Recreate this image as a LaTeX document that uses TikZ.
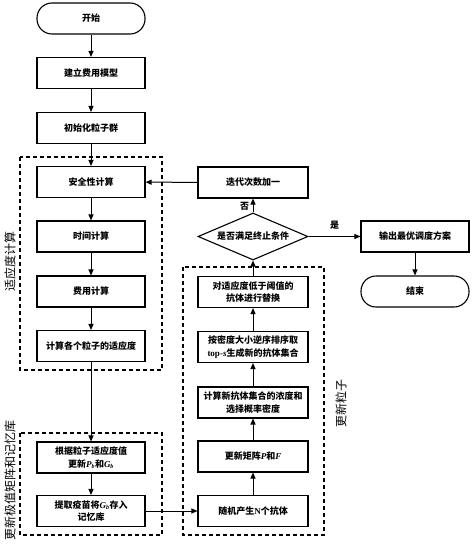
\documentclass[tikz,border=0pt]{standalone}
\usepackage{fontspec}
\setmainfont{Noto Sans CJK SC}
\newfontfamily\lat{Liberation Serif}
\usetikzlibrary{arrows.meta,shapes.geometric}
\newcommand{\mylat}[1]{{\lat\bfseries\itshape #1}}
\tikzset{
  box/.style={draw, line width=1.1pt, rectangle, minimum width=108pt, minimum height=31pt, align=center, font=\fontsize{9}{12.5}\selectfont\bfseries, inner sep=1pt},
  rbox/.style={box, minimum width=110pt},
  term/.style={box, rounded corners=15pt},
  dbox/.style={draw, line width=1.1pt, dash pattern=on 4pt off 3pt},
  vlabel/.style={rotate=90, font=\fontsize{12}{14}\selectfont},
  arr/.style={line width=1pt, -{Triangle[length=6pt,width=5pt]}},
  small/.style={font=\fontsize{9}{10}\selectfont\bfseries}
}
\begin{document}
\begin{tikzpicture}[x=1pt,y=-1pt]
\useasboundingbox (0,0) rectangle (474,548);
% dashed groups
\draw[dbox] (20,157) rectangle (162,370);
\draw[dbox] (20,433) rectangle (162,535);
\draw[dbox] (183,267) rectangle (324,535);
\node[vlabel] (lfit) at (10,261) {适应度计算};
\node[vlabel] (lupd) at (10,480) {更新极值矩阵和记忆库};
\node[vlabel] (lpart) at (341,403) {更新粒子};
% left column
\node[term] (start) at (91,18.5) {开始};
\node[box] (model) at (91,73) {建立费用模型};
\node[box] (init) at (91,128) {初始化粒子群};
\node[box] (safe) at (91,182) {安全性计算};
\node[box] (time) at (91,236.5) {时间计算};
\node[box] (cost) at (91,291.5) {费用计算};
\node[box] (fit) at (91,346) {计算各个粒子的适应度};
\node[box] (upd) at (91,457.5) {根据粒子适应度值\\更新\mylat{P\textsubscript{b}}和\mylat{G\textsubscript{b}}};
\node[box] (vac) at (91,511) {提取疫苗将\mylat{G\textsubscript{b}}存入\\记忆库};
% right column
\node[rbox] (iter) at (253,182.5) {迭代次数加一};
\node[draw, line width=1.1pt, diamond, aspect=2.35, minimum width=110pt, minimum height=47pt, inner sep=0pt, font=\fontsize{9}{12}\selectfont\bfseries] (dia) at (253,236.5) {是否满足终止条件};
\node[rbox] (r1) at (253,292) {对适应度低于阈值的\\抗体进行替换};
\node[rbox] (r2) at (253,347) {按密度大小逆序排序取\\{\lat\bfseries top-\itshape s}生成新的抗体集合};
\node[rbox] (r3) at (253,402.5) {计算新抗体集合的浓度和\\选择概率密度};
\node[rbox] (r4) at (253,456.5) {更新矩阵\mylat{P}和\mylat{F}};
\node[rbox] (r5) at (253,511) {随机产生{\lat\bfseries N}个抗体};
\node[box] (out) at (415,236.5) {输出最优调度方案};
\node[term] (end) at (415,291.5) {结束};
% connectors
\draw[arr] (start) -- (model);
\draw[arr] (model) -- (init);
\draw[arr] (init) -- (safe);
\draw[arr] (safe) -- (time);
\draw[arr] (time) -- (cost);
\draw[arr] (cost) -- (fit);
\draw[arr] (fit) -- (upd);
\draw[arr] (upd) -- (vac);
\draw[arr] (vac) -- (r5);
\draw[arr] (r5) -- (r4);
\draw[arr] (r4) -- (r3);
\draw[arr] (r3) -- (r2);
\draw[arr] (r2) -- (r1);
\draw[arr] (r1) -- (dia);
\draw[arr] (dia) -- node[small, left, pos=0.45] (no) {否} (iter);
\draw[arr] (iter) -- (safe);
\draw[arr] (dia) -- node[small, above=3pt] (yes) {是} (out);
\draw[arr] (out) -- (end);
\end{tikzpicture}
\end{document}
